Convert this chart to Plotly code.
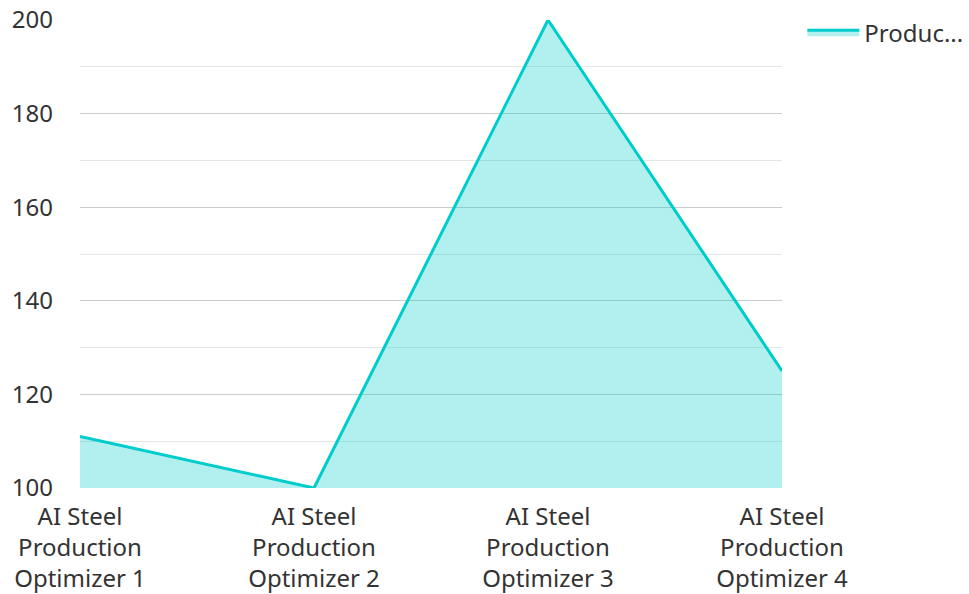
import plotly.graph_objects as go

categories = ["AI Steel<br>Production<br>Optimizer 1", "AI Steel<br>Production<br>Optimizer 2",
              "AI Steel<br>Production<br>Optimizer 3", "AI Steel<br>Production<br>Optimizer 4"]
values = [111, 100, 200, 125]
series_name = "Produc..."
y_ticks = [100, 120, 140, 160, 180, 200]

fig = go.Figure()
fig.add_trace(go.Scatter(
    x=categories, y=values, name=series_name, mode="lines",
    line=dict(color="#00CCCC", width=3),
    fill="tozeroy", fillcolor="rgba(0,204,204,0.3)",
))

fig.update_layout(
    width=969, height=594,
    margin=dict(l=80, r=187, t=20, b=106),
    paper_bgcolor="white", plot_bgcolor="white",
    font=dict(family="Noto Sans", size=24, color="#333333"),
    showlegend=True,
    legend=dict(xref="container", yref="container", x=0.828, y=0.983,
                xanchor="left", yanchor="top",
                font=dict(size=24, color="#333333"), itemwidth=52,
                bgcolor="rgba(0,0,0,0)"),
    xaxis=dict(showgrid=False, showline=False, zeroline=False, automargin=False,
               range=[0, 3], ticks="", ticklabelstandoff=12, tickfont=dict(size=24)),
    yaxis=dict(range=[100, 200], tickvals=y_ticks, showgrid=True, automargin=False,
               gridcolor="#CCCCCC", gridwidth=1, zeroline=False,
               showline=False, ticks="", ticklabelstandoff=26,
               minor=dict(dtick=10, showgrid=True, gridcolor="#E6E6E6", gridwidth=1),
               tickfont=dict(size=24)),
)

fig.write_html("out.html")
